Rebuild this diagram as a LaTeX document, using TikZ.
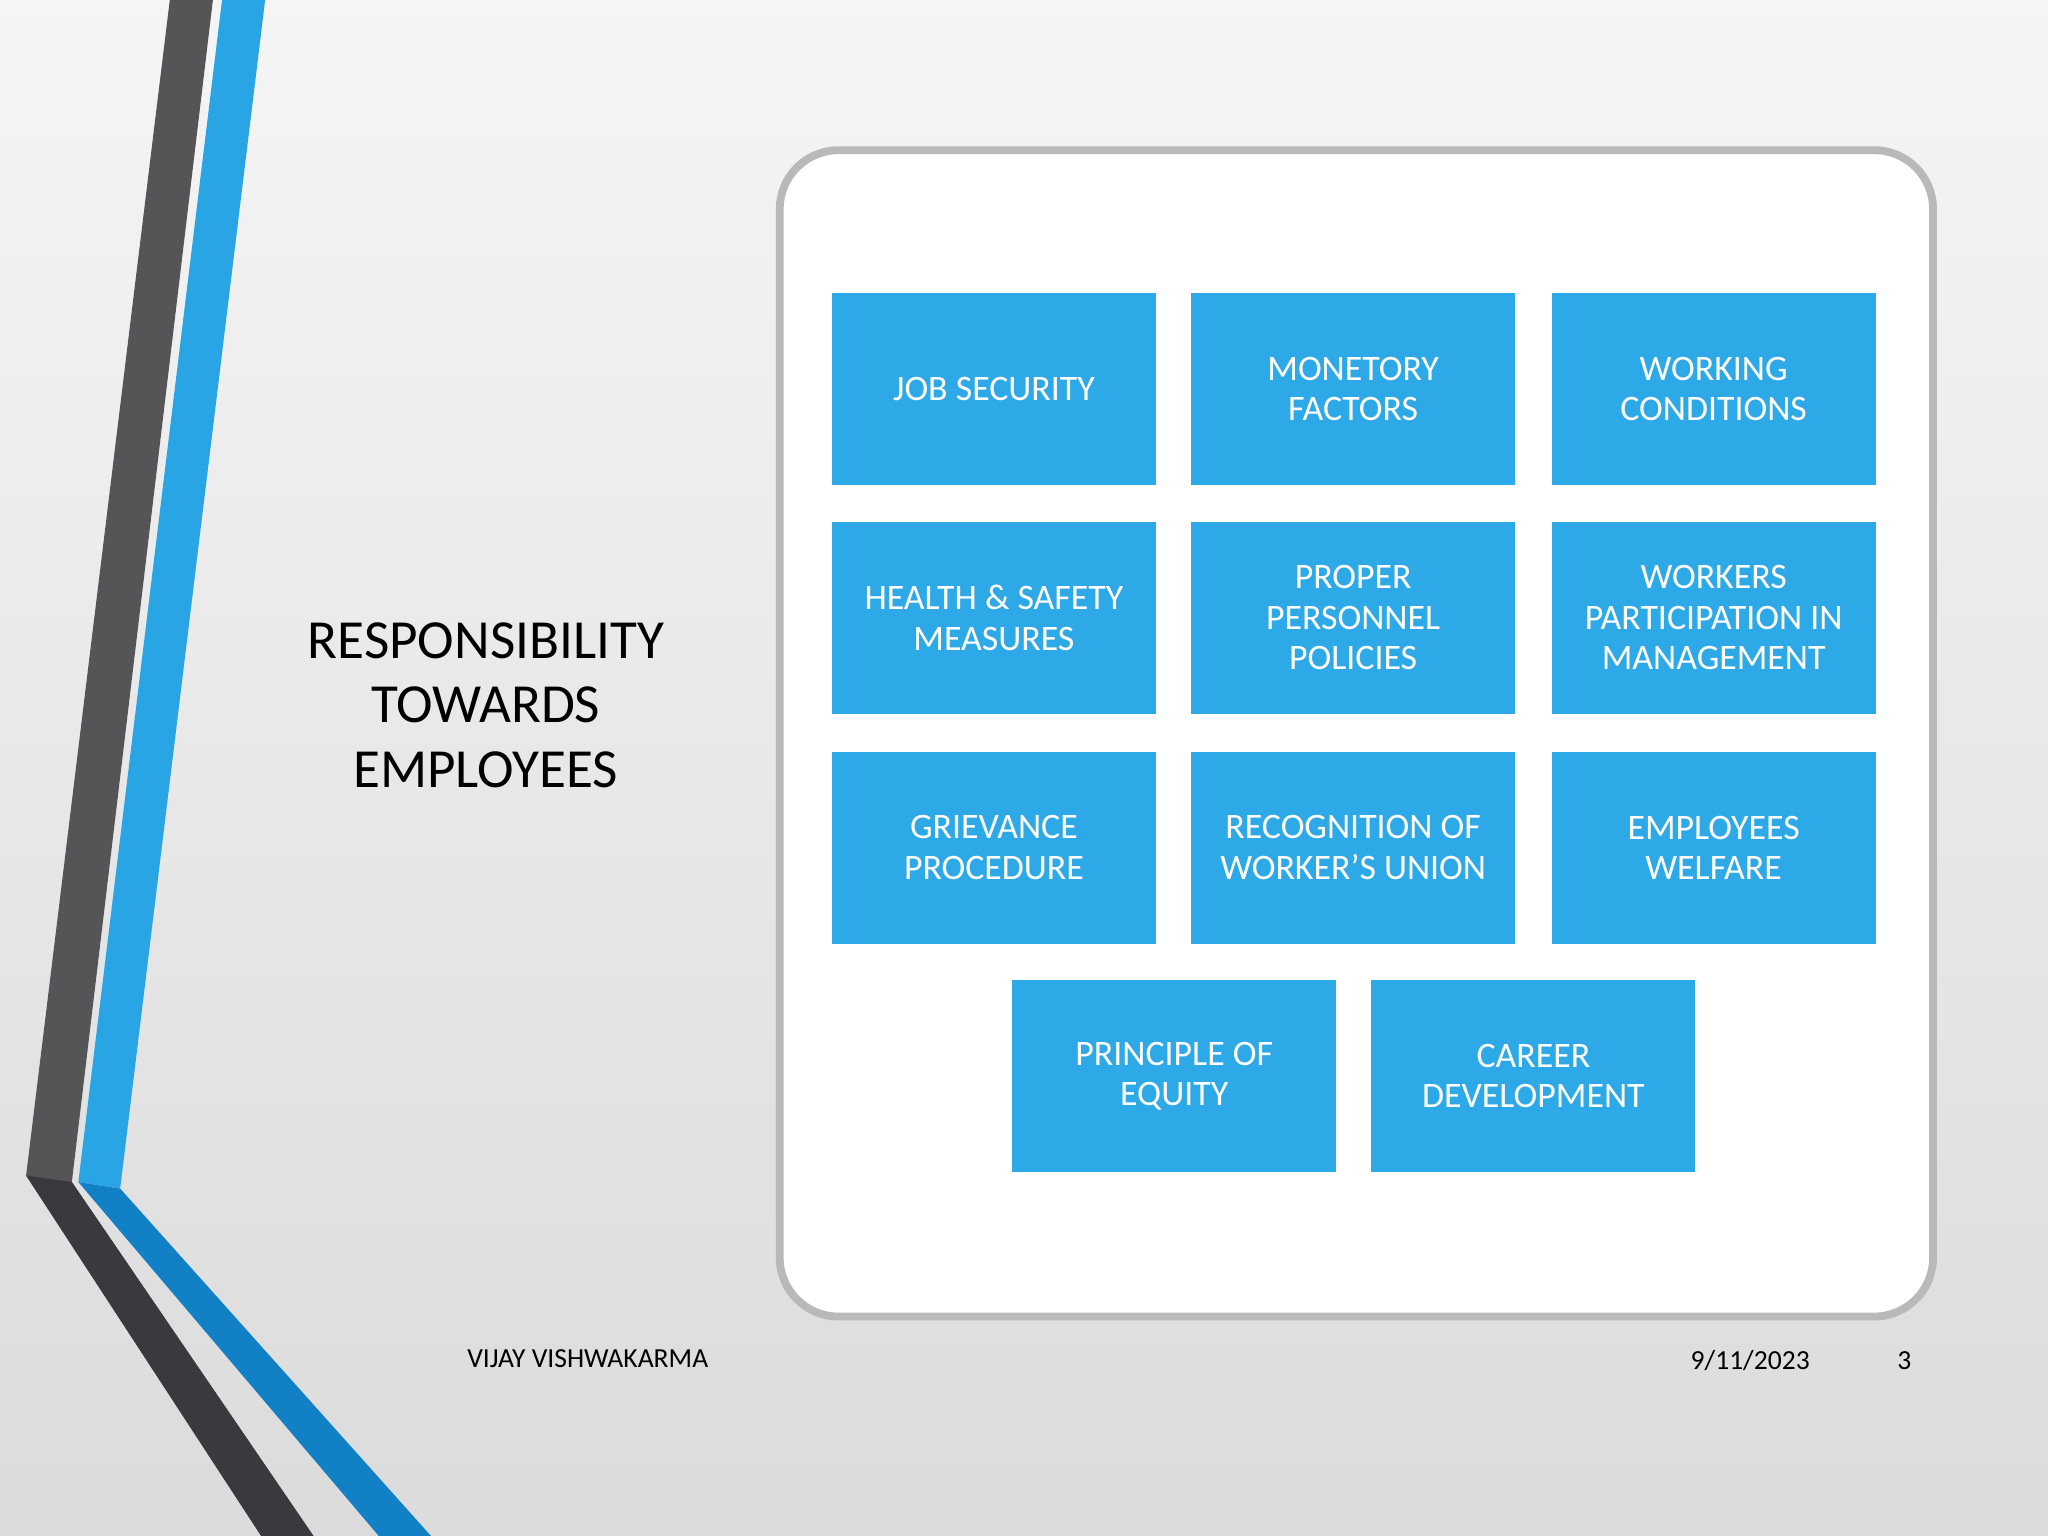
\documentclass[tikz,border=0pt]{standalone}
\usepackage{fontspec}
\setmainfont{Carlito}
\usetikzlibrary{positioning}
\definecolor{tile}{RGB}{46,169,232}
\definecolor{stripeblue}{RGB}{41,165,230}
\definecolor{stripedeep}{RGB}{18,128,196}
\definecolor{stripegray}{RGB}{85,85,88}
\definecolor{stripedark}{RGB}{58,58,62}
\begin{document}
\begin{tikzpicture}[x=0.01cm,y=-0.01cm,
		tilebox/.style={fill=tile, minimum width=2.48cm, minimum height=1.47cm, align=center, text=white, font=\fontsize{7.8}{8.8}\selectfont, inner sep=1pt},
		footer/.style={font=\fontsize{6}{7}\selectfont}
	]
	\useasboundingbox (0,0) rectangle (1568,1176);
	\shade[top color=gray!8, bottom color=gray!28] (0,0) rectangle (1568,1176);

	% stripes
	\fill[stripegray] (130,0) -- (163,0) -- (55,905) -- (240,1176) -- (200,1176) -- (20,900) -- cycle;
	\fill[stripedark] (20,900) -- (55,905) -- (240,1176) -- (200,1176) -- cycle;
	\fill[stripeblue] (170,0) -- (203,0) -- (92,910) -- (60,905) -- cycle;
	\fill[stripedeep] (60,905) -- (92,910) -- (330,1176) -- (290,1176) -- cycle;

	% panel
	\draw[line width=0.06cm, draw=gray!55, fill=white, rounded corners=0.45cm] (597,115) rectangle (1480,1008);

	% tiles
	\foreach \t/\x/\y [count=\i] in {
		JOB SECURITY/761/298,
		MONETORY\\FACTORS/1036/298,
		WORKING\\CONDITIONS/1312/298,
		HEALTH \& SAFETY\\MEASURES/761/473,
		PROPER\\PERSONNEL\\POLICIES/1036/473,
		WORKERS\\PARTICIPATION IN\\MANAGEMENT/1312/473,
		GRIEVANCE\\PROCEDURE/761/649,
		RECOGNITION OF\\WORKER’S UNION/1036/649,
		EMPLOYEES\\WELFARE/1312/649,
		PRINCIPLE OF\\EQUITY/899/824,
		CAREER\\DEVELOPMENT/1174/824} {
		\node[tilebox] (tile-\i) at (\x,\y) {\t};
	}

	% title and footer
	\node[align=center, font=\fontsize{12}{14}\selectfont] (title) at (372,540) {RESPONSIBILITY\\TOWARDS\\EMPLOYEES};
	\node[footer] (author) at (450,1040) {VIJAY VISHWAKARMA};
	\node[footer] (date) at (1340,1042) {9/11/2023};
	\node[footer] (page) at (1458,1042) {3};
\end{tikzpicture}
\end{document}
